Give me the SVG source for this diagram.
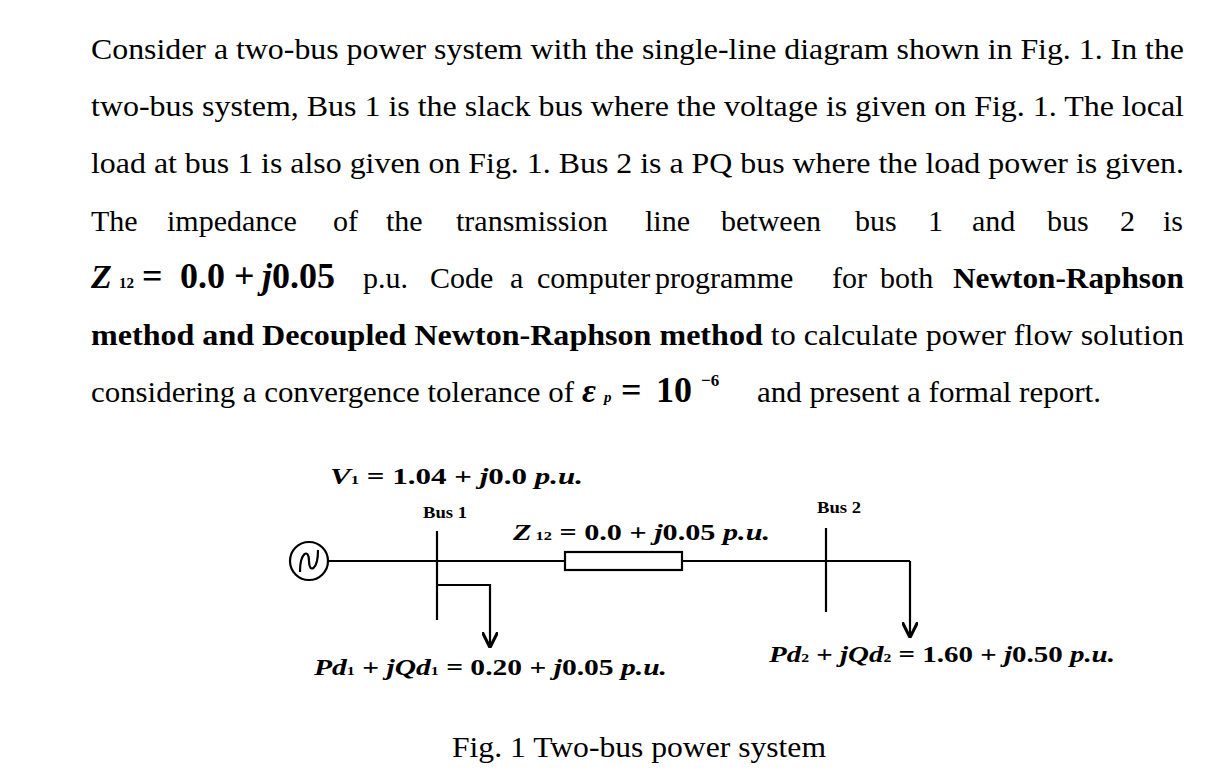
<svg xmlns="http://www.w3.org/2000/svg" width="1216" height="774" viewBox="0 0 1216 774">
<style>
text{font-family:"Liberation Serif","Times New Roman",serif;fill:#000}
.p{font-size:30px}
.m{font-size:24px;font-weight:bold}
.bus{font-size:16px;font-weight:bold}
.i{font-style:italic}
.s{font-size:13px}
.w{stroke:#000;stroke-width:2.2;fill:none}
</style>
<defs><marker id="ar" viewBox="0 0 10 10" refX="9" refY="5" markerWidth="7" markerHeight="7" orient="auto"><path d="M0,0 L10,5 L0,10" fill="none" stroke="#000" stroke-width="2"/></marker></defs>
<rect width="1216" height="774" fill="#fff"/>
<g id="para">
<text class="p" x="91" y="59" textLength="1093" lengthAdjust="spacingAndGlyphs">Consider a two-bus power system with the single-line diagram shown in Fig. 1. In the</text>
<text class="p" x="91" y="116" textLength="1093" lengthAdjust="spacingAndGlyphs">two-bus system, Bus 1 is the slack bus where the voltage is given on Fig. 1. The local</text>
<text class="p" x="91" y="173" textLength="1093" lengthAdjust="spacingAndGlyphs">load at bus 1 is also given on Fig. 1. Bus 2 is a PQ bus where the load power is given.</text>
<text class="p" y="231"><tspan x="91">The</tspan><tspan x="167">impedance</tspan><tspan x="333">of</tspan><tspan x="386">the</tspan><tspan x="456">transmission</tspan><tspan x="645">line</tspan><tspan x="721">between</tspan><tspan x="855">bus</tspan><tspan x="928">1</tspan><tspan x="972">and</tspan><tspan x="1047">bus</tspan><tspan x="1120">2</tspan><tspan x="1163">is</tspan></text>
<text y="288" font-weight="bold"><tspan x="91" font-style="italic" font-size="34">Z</tspan><tspan x="119" font-size="15">12</tspan><tspan x="142" font-size="36">=</tspan><tspan x="180" font-size="36">0.0</tspan><tspan x="234" font-size="36">+</tspan><tspan x="262" font-size="36" font-style="italic">j</tspan><tspan font-size="36">0.05</tspan></text>
<text class="p" y="288"><tspan x="363">p.u.</tspan><tspan x="430">Code</tspan><tspan x="510">a</tspan><tspan x="537">computer</tspan><tspan x="655">programme</tspan><tspan x="832">for</tspan><tspan x="880">both</tspan></text>
<text class="p" x="953" y="288" font-weight="bold" textLength="231" lengthAdjust="spacingAndGlyphs">Newton-Raphson</text>
<text class="p" x="91" y="345" textLength="1093" lengthAdjust="spacingAndGlyphs"><tspan font-weight="bold">method and Decoupled Newton-Raphson method</tspan> to calculate power flow solution</text>
<text class="p" x="91" y="402" textLength="483" lengthAdjust="spacingAndGlyphs">considering a convergence tolerance of</text>
<text y="402" font-weight="bold"><tspan x="582" font-style="italic" font-size="34">ε</tspan><tspan x="604" font-size="15" font-style="italic">p</tspan><tspan x="621" font-size="36">=</tspan><tspan x="656" font-size="36">10</tspan><tspan x="701" y="386" font-size="17">−6</tspan></text>
<text class="p" x="757" y="402" textLength="344" lengthAdjust="spacingAndGlyphs">and present a formal report.</text>
</g>
<g id="connectors">
<line class="w" x1="328" y1="561" x2="565" y2="561"/>
<line class="w" x1="682" y1="561" x2="910" y2="561"/>
<polyline class="w" points="910,561 910,636" marker-end="url(#ar)"/>
<polyline class="w" points="437,585 490,585 490,646" marker-end="url(#ar)"/>
</g>
<g id="gen"><circle class="w" cx="309" cy="561" r="19"/><path class="w" d="M300,572 C300,552 309,548 309,561 C309,574 318,570 318,550"/></g>
<g id="bus1"><line class="w" x1="437" y1="531" x2="437" y2="620" stroke-width="3"/><text class="bus" x="423" y="518" textLength="44" lengthAdjust="spacingAndGlyphs">Bus 1</text></g>
<g id="bus2"><line class="w" x1="826" y1="528" x2="826" y2="612" stroke-width="3"/><text class="bus" x="817" y="513" textLength="44" lengthAdjust="spacingAndGlyphs">Bus 2</text></g>
<g id="z12"><rect class="w" x="565" y="552" width="117" height="18"/><text class="m" x="513" y="540" textLength="257" lengthAdjust="spacingAndGlyphs"><tspan class="i">Z</tspan><tspan class="s"> 12</tspan> = 0.0 + <tspan class="i">j</tspan>0.05 <tspan class="i">p.u.</tspan></text></g>
<g id="v1"><text class="m" x="330" y="484" textLength="253" lengthAdjust="spacingAndGlyphs"><tspan class="i">V</tspan><tspan class="s">1</tspan> = 1.04 + <tspan class="i">j</tspan>0.0 <tspan class="i">p.u.</tspan></text></g>
<g id="load1"><text class="m" x="314" y="675" textLength="353" lengthAdjust="spacingAndGlyphs"><tspan class="i">Pd</tspan><tspan class="s">1</tspan> + <tspan class="i">jQd</tspan><tspan class="s">1</tspan> = 0.20 + <tspan class="i">j</tspan>0.05 <tspan class="i">p.u.</tspan></text></g>
<g id="load2"><text class="m" x="769" y="662" textLength="346" lengthAdjust="spacingAndGlyphs"><tspan class="i">Pd</tspan><tspan class="s">2</tspan> + <tspan class="i">jQd</tspan><tspan class="s">2</tspan> = 1.60 + <tspan class="i">j</tspan>0.50 <tspan class="i">p.u.</tspan></text></g>
<text class="p" x="452" y="757" textLength="374" lengthAdjust="spacingAndGlyphs">Fig. 1 Two-bus power system</text>
</svg>
